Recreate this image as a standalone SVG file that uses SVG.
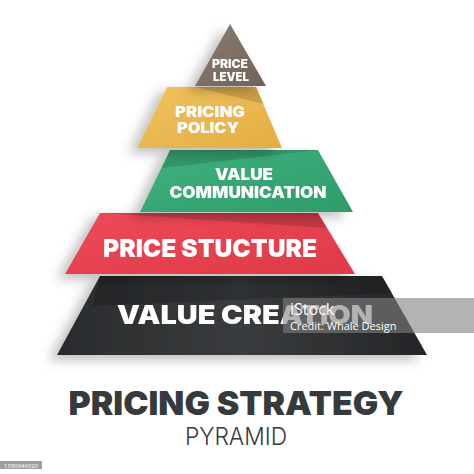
<svg xmlns="http://www.w3.org/2000/svg" width="474" height="474" viewBox="0 0 474 474">
<defs>
<filter id="sh" x="-20%" y="-20%" width="140%" height="150%">
<feDropShadow dx="-8" dy="5" stdDeviation="6" flood-color="#000" flood-opacity="0.26"/>
</filter>
<linearGradient id="gBrown" x1="0" y1="0" x2="1" y2="1"><stop offset="0" stop-color="#8d7e73"/><stop offset="1" stop-color="#706158"/></linearGradient>
<linearGradient id="gYellow" x1="0" y1="0" x2="1" y2="1"><stop offset="0" stop-color="#f1c25c"/><stop offset="1" stop-color="#e3ad45"/></linearGradient>
<linearGradient id="gGreen" x1="0" y1="0" x2="1" y2="1"><stop offset="0" stop-color="#3fb27f"/><stop offset="1" stop-color="#2f9b6b"/></linearGradient>
<linearGradient id="gRed" x1="0" y1="0" x2="1" y2="1"><stop offset="0" stop-color="#ec4a57"/><stop offset="1" stop-color="#df3a48"/></linearGradient>
<linearGradient id="gBlack" x1="0" y1="0" x2="1" y2="0"><stop offset="0" stop-color="#2a2b2d"/><stop offset="0.5" stop-color="#3a3c3e"/><stop offset="1" stop-color="#242527"/></linearGradient>
</defs>
<style>
.lbl{font-family:Inter,"Open Sans","Liberation Sans",sans-serif;font-weight:900;fill:#ffffff;text-anchor:middle}
.title{font-family:Inter,"Open Sans","Liberation Sans",sans-serif;font-weight:900;fill:#363a3d;text-anchor:middle}
.sub{font-family:Inter,"Open Sans","Liberation Sans",sans-serif;font-weight:300;fill:#363a3d;text-anchor:middle}
.wm{font-family:"Open Sans","Liberation Sans",sans-serif;fill:#ffffff}
.shade{fill:#000}
</style>
<rect width="474" height="474" fill="#ffffff"/>
<g id="layer-value-creation" filter="url(#sh)">
<polygon points="100,276 382,276 427,355 57,355" fill="url(#gBlack)"/>
<polygon class="shade" points="100,276 382,276 392,293 93,306" opacity="0.18"/>
<text class="lbl" x="245" y="324" font-size="26" textLength="256" lengthAdjust="spacingAndGlyphs">VALUE CREATION</text>
</g>
<g id="layer-price-structure" filter="url(#sh)">
<polygon points="100,213 318,213 355,274 65,274" fill="url(#gRed)"/>
<polygon class="shade" points="103,213 318,213 327,228" opacity="0.14"/>
<text class="lbl" x="210" y="257" font-size="25" textLength="214" lengthAdjust="spacingAndGlyphs">PRICE STUCTURE</text>
</g>
<g id="layer-value-communication" filter="url(#sh)">
<polygon points="170,150 318,150 353,212 140,212" fill="url(#gGreen)"/>
<polygon class="shade" points="170,150 318,150 162,168" opacity="0.14"/>
<text class="lbl" x="244" y="180" font-size="16" textLength="58" lengthAdjust="spacingAndGlyphs">VALUE</text>
<text class="lbl" x="248" y="198" font-size="16" textLength="157" lengthAdjust="spacingAndGlyphs">COMMUNICATION</text>
</g>
<g id="layer-pricing-policy" filter="url(#sh)">
<polygon points="167,87 256,87 282,148 137,148" fill="url(#gYellow)"/>
<polygon class="shade" points="195,87 256,87 264,104" opacity="0.13"/>
<text class="lbl" x="210" y="117" font-size="14" textLength="70" lengthAdjust="spacingAndGlyphs">PRICING</text>
<text class="lbl" x="208" y="133" font-size="14" textLength="62" lengthAdjust="spacingAndGlyphs">POLICY</text>
</g>
<g id="layer-price-level" filter="url(#sh)">
<polygon points="230,24 266,86 195,86" fill="url(#gBrown)"/>
<text class="lbl" x="230" y="68" font-size="11.5" textLength="36" lengthAdjust="spacingAndGlyphs">PRICE</text>
<text class="lbl" x="231" y="81" font-size="11.5" textLength="36" lengthAdjust="spacingAndGlyphs">LEVEL</text>
</g>
<g id="title">
<text class="title" x="236" y="415" font-size="33" textLength="335" lengthAdjust="spacingAndGlyphs">PRICING STRATEGY</text>
<text class="sub" x="236" y="445" font-size="24" textLength="102" lengthAdjust="spacingAndGlyphs">PYRAMID</text>
</g>
<g id="watermark">
<rect x="283" y="298" width="191" height="35" fill="#808080" opacity="0.6"/>
<text class="wm" x="290" y="315" font-size="16">iStock</text>
<text class="wm" x="290" y="330" font-size="11">Credit: Whale Design</text>
<rect x="0" y="461" width="42" height="8" fill="#9e9e9e"/>
<text class="wm" x="21" y="467.5" font-size="6" text-anchor="middle">1390946320</text>
</g>
</svg>
